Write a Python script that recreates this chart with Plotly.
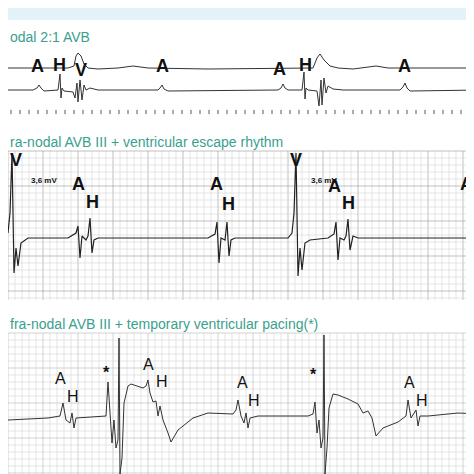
import plotly.graph_objects as go

# coordinates, in pixels (x right, y down)
top1_x = [0, 60, 66, 68, 70, 73, 76, 80, 90, 110, 125, 140, 200, 290, 305, 309, 312, 316, 322, 330, 345, 368, 380, 474]
top1_y = [60, 60, 58, 48, 45, 48, 56, 60, 61, 60, 58, 60, 61, 60, 60, 50, 46, 52, 58, 60, 61, 58, 60, 60]

low1_x = [0, 25, 29, 31, 33, 36, 50, 52, 53, 54, 56, 65, 67, 69, 70, 72, 74, 76, 78, 82, 90, 150, 152, 154, 156, 160, 270, 273, 275, 277, 280, 294, 296, 297, 298, 300, 309, 311, 313, 314, 316, 318, 320, 325, 335, 392, 395, 397, 399, 402, 474]
low1_y = [82, 82, 80, 77, 80, 83, 82, 66, 90, 80, 83, 84, 90, 75, 94, 72, 92, 77, 82, 80, 82, 82, 80, 77, 81, 83, 82, 80, 76, 80, 82, 82, 64, 91, 80, 82, 83, 98, 72, 97, 70, 85, 78, 81, 82, 82, 79, 75, 80, 83, 82]

tick_x = list(range(3, 474, 9))

p2_x = [0, 2, 4, 6, 8, 10, 13, 17, 20, 60, 68, 70, 72, 74, 78, 80, 82, 84, 86, 90, 200, 207, 209, 211, 213, 217, 219, 221, 223, 227, 280, 284, 286, 288, 290, 292, 294, 297, 302, 320, 326, 328, 330, 332, 336, 338, 340, 342, 345, 350, 460, 464, 466, 468, 470, 474]
p2_y = [225, 205, 145, 265, 240, 258, 235, 232, 230, 230, 225, 218, 250, 228, 232, 228, 210, 245, 232, 230, 230, 226, 214, 255, 230, 232, 214, 248, 232, 230, 230, 225, 205, 145, 268, 240, 262, 235, 232, 230, 226, 214, 252, 230, 232, 228, 211, 242, 228, 230, 230, 228, 216, 252, 232, 230]

p3_x = [0, 40, 52, 55, 58, 62, 64, 66, 68, 90, 98, 100, 102, 104, 106, 108, 110, 111, 112, 114, 116, 120, 123, 128, 135, 138, 140, 142, 145, 148, 150, 152, 155, 160, 163, 170, 185, 200, 225, 228, 230, 233, 236, 238, 240, 242, 250, 300, 305, 307, 309, 311, 313, 315, 316, 317, 319, 321, 325, 330, 340, 350, 355, 360, 364, 368, 375, 390, 398, 400, 403, 408, 410, 412, 420, 450, 474]
p3_y = [412, 410, 408, 395, 412, 415, 405, 420, 410, 409, 408, 374, 405, 435, 412, 440, 432, 330, 466, 450, 395, 378, 376, 378, 380, 378, 372, 385, 394, 393, 408, 398, 412, 425, 434, 422, 410, 405, 406, 402, 392, 408, 415, 405, 420, 410, 408, 408, 406, 394, 425, 412, 440, 430, 327, 466, 440, 400, 386, 387, 391, 396, 405, 403, 410, 428, 420, 414, 408, 392, 410, 402, 418, 408, 408, 405, 406]

labels1 = [("A", 29, 58), ("H", 51, 57), ("V", 73, 62), ("A", 154, 58), ("A", 271, 61), ("H", 297, 57), ("A", 396, 58)]
labels2 = [("V", 8, 152), ("A", 70, 176), ("H", 84, 194), ("A", 208, 176), ("H", 220, 196),
           ("V", 288, 152), ("A", 326, 178), ("H", 340, 195), ("A", 458, 176), ("H", 469, 196)]
labels3 = [("A", 52, 370), ("H", 65, 388), ("*", 98, 364), ("A", 140, 356), ("H", 154, 373),
           ("A", 234, 374), ("H", 246, 392), ("*", 305, 366), ("A", 401, 374), ("H", 414, 392)]
titles = [("odal 2:1 AVB", 29), ("ra-nodal AVB III + ventricular escape rhythm", 134),
          ("fra-nodal AVB III + temporary ventricular pacing(*)", 316)]

fig = go.Figure()
line = dict(color="#333", width=1)
fig.add_trace(go.Scatter(x=top1_x, y=top1_y, mode="lines", line=line))
fig.add_trace(go.Scatter(x=low1_x, y=low1_y, mode="lines", line=line))
fig.add_trace(go.Scatter(x=tick_x, y=[104] * len(tick_x), mode="markers",
                         marker=dict(symbol="line-ns", size=3, line=dict(width=1, color="#555"))))
fig.add_trace(go.Scatter(x=p2_x, y=p2_y, mode="lines", line=dict(color="#222", width=1.2)))
fig.add_trace(go.Scatter(x=p3_x, y=p3_y, mode="lines", line=dict(color="#333", width=1)))

shapes = [dict(type="rect", x0=0, x1=474, y0=0, y1=12, fillcolor="#e3f2f8", line_width=0, layer="below")]
# ECG paper grids
for y0, y1, major in [(143, 292, "#999"), (325, 466, "#b5b5b5")]:
    for gx in range(0, 475, 7):
        shapes.append(dict(type="line", x0=gx, x1=gx, y0=y0, y1=y1, layer="below",
                           line=dict(color=major if gx % 35 == 0 else "#d5d5d5", width=0.6)))
    for gy in range(y0, y1 + 1, 7):
        shapes.append(dict(type="line", x0=0, x1=474, y0=gy, y1=gy, layer="below",
                           line=dict(color=major if (gy - y0) % 35 == 0 else "#d5d5d5", width=0.6)))

ann = []
for t, y in titles:
    ann.append(dict(text=t, x=0, y=y, xanchor="left", yanchor="middle", showarrow=False,
                    font=dict(family="Liberation Sans", size=14, color="#3aa08e")))
for t, x, y in labels1 + labels2:
    ann.append(dict(text="<b>" + t + "</b>", x=x, y=y, showarrow=False,
                    font=dict(family="Liberation Sans", size=18, color="#111")))
for x in (36, 316):
    ann.append(dict(text="<b>3,6 mV</b>", x=x, y=172, showarrow=False,
                    font=dict(family="Liberation Sans", size=8, color="#111")))
for t, x, y in labels3:
    ann.append(dict(text=("<b>*</b>" if t == "*" else t), x=x, y=y, showarrow=False,
                    font=dict(family="Liberation Sans", size=16, color="#111")))

fig.update_layout(width=474, height=474, margin=dict(l=0, r=0, t=0, b=0),
                  paper_bgcolor="white", plot_bgcolor="white", showlegend=False,
                  xaxis=dict(range=[0, 474], visible=False),
                  yaxis=dict(range=[474, 0], visible=False),
                  shapes=shapes, annotations=ann)
fig.write_html("out.html")
